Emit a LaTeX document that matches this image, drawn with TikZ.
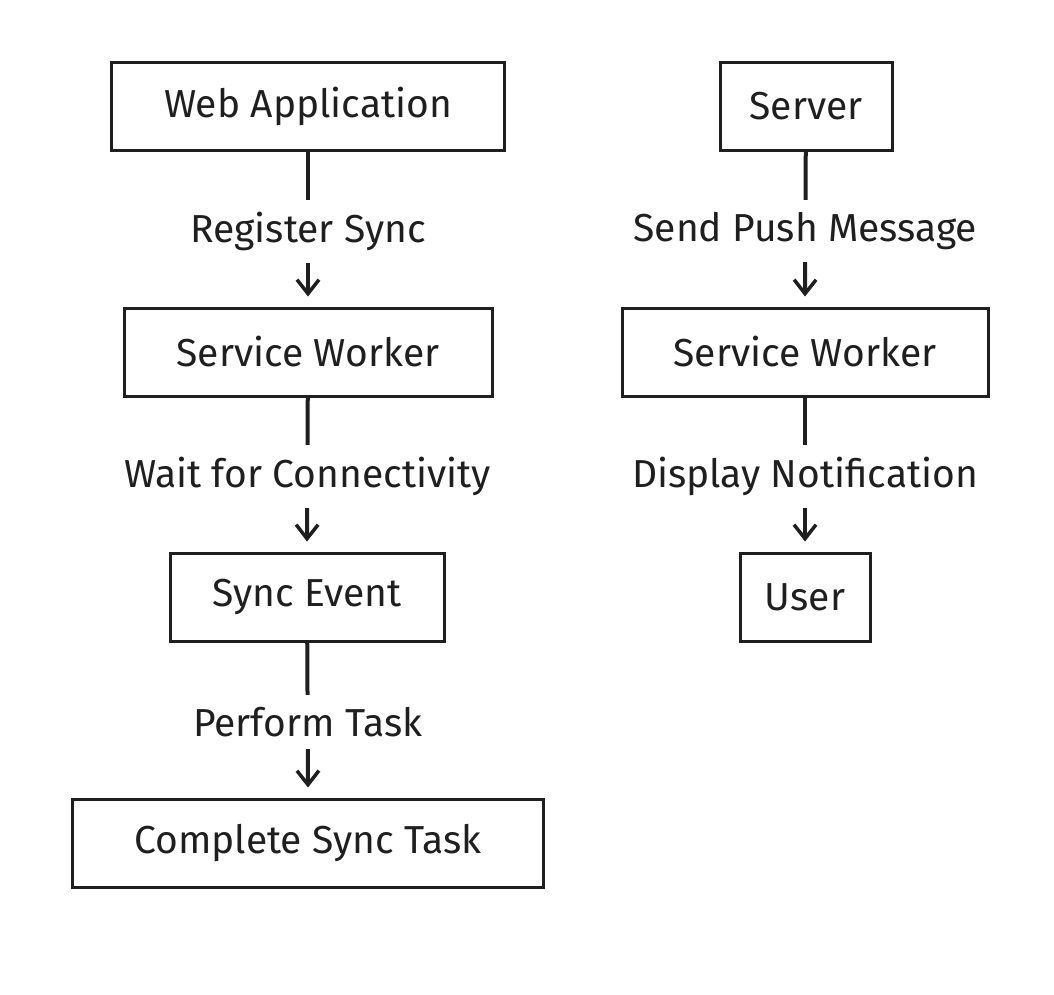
\documentclass[tikz,border=0pt]{standalone}
\usepackage{fontspec}
\setmainfont{Fira Sans}
\usetikzlibrary{arrows.meta}
\begin{document}
\begin{tikzpicture}[x=1pt,y=-1pt,
  box/.style={draw=black!88,line width=3pt,minimum height=88pt,inner sep=0pt,font=\fontsize{39}{44}\selectfont,text=black!88},
  lbl/.style={fill=white,inner ysep=12pt,inner xsep=2pt,font=\fontsize{39}{44}\selectfont,text=black!88},
  con/.style={draw=black!88,line width=4pt,-{Straight Barb[length=14pt,width=22pt,line width=3.5pt]}}]
\useasboundingbox (0,0) rectangle (1054,994);
\node[box,minimum width=393pt] (wa) at (308,106) {Web Application};
\node[box,minimum width=172pt] (sv) at (806,106) {Server};
\node[box,minimum width=368pt] (sw1) at (308,352) {Service Worker};
\node[box,minimum width=366pt] (sw2) at (805,352) {Service Worker};
\node[box,minimum width=274pt] (se) at (307,597) {Sync Event};
\node[box,minimum width=130pt] (us) at (805,597) {User};
\node[box,minimum width=471pt] (ct) at (308,843) {Complete Sync Task};
\draw[con] (wa) -- node[lbl,pos=0.55] (l1) {Register Sync} ([yshift=10pt]sw1.north);
\draw[con] (sw1) -- node[lbl,pos=0.55] (l2) {Wait for Connectivity} ([yshift=10pt]se.north);
\draw[con] (se) -- node[lbl,pos=0.55] (l3) {Perform Task} ([yshift=10pt]ct.north);
\draw[con] (sv) -- node[lbl,pos=0.55] (l4) {Send Push Message} ([yshift=10pt]sw2.north);
\draw[con] (sw2) -- node[lbl,pos=0.55] (l5) {Display Notification} ([yshift=10pt]us.north);
\end{tikzpicture}
\end{document}
